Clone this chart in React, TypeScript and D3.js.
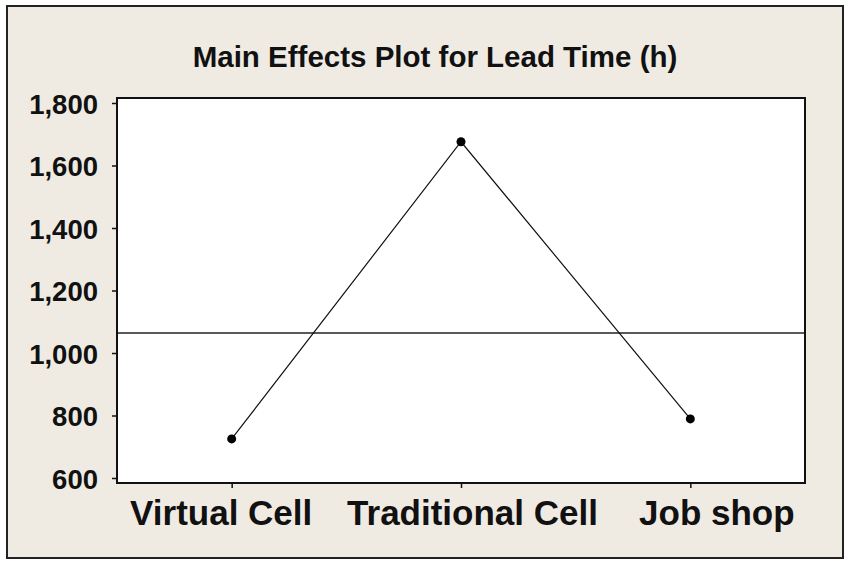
import { useEffect, useRef } from "react";
import * as d3 from "d3";

const categories = ["Virtual Cell", "Traditional Cell", "Job shop"];
const leadTime = [725, 1676, 789];
const grandMean = 1064;
const yTicks = [600, 800, 1000, 1200, 1400, 1600, 1800];
const title = "Main Effects Plot for Lead Time (h)";

const W = 850;
const H = 565;

// the category labels in the source image sit a little off their ticks
const labelShift: Record<string, number> = {
  "Virtual Cell": -11,
  "Traditional Cell": 11,
  "Job shop": 26,
};

export default function App() {
  const svgRef = useRef<SVGSVGElement>(null);

  useEffect(() => {
    if (!svgRef.current) return;
    const svg = d3.select(svgRef.current);
    svg.selectAll("*").remove();

    const plot = { left: 117, right: 805, top: 98, bottom: 483 };
    const font = "'Liberation Sans', Arial, sans-serif";

    // panel background + frame
    svg.append("rect").attr("width", W).attr("height", H).attr("fill", "#ffffff");
    svg
      .append("rect")
      .attr("x", 7)
      .attr("y", 6)
      .attr("width", 836)
      .attr("height", 552)
      .attr("fill", "#efebe3")
      .attr("stroke", "#222")
      .attr("stroke-width", 2);

    const x = d3
      .scalePoint<string>()
      .domain(categories)
      .range([plot.left, plot.right])
      .padding(0.5);
    const y = d3.scaleLinear().domain([584, 1816]).range([plot.bottom, plot.top]);

    svg
      .append("rect")
      .attr("x", plot.left)
      .attr("y", plot.top)
      .attr("width", plot.right - plot.left)
      .attr("height", plot.bottom - plot.top)
      .attr("fill", "#ffffff");

    svg
      .append("text")
      .attr("x", 435)
      .attr("y", 67)
      .attr("text-anchor", "middle")
      .attr("font-family", font)
      .attr("font-weight", "bold")
      .attr("font-size", "29.5px")
      .attr("fill", "#111")
      .text(title);

    // y axis
    const yAxis = svg.append("g").attr("transform", `translate(${plot.left},0)`).call(
      d3
        .axisLeft(y)
        .tickValues(yTicks)
        .tickSize(5)
        .tickPadding(14)
        .tickFormat((d) => d3.format(",")(d as number)),
    );
    yAxis.select(".domain").remove();
    yAxis.selectAll("line").attr("stroke", "#111").attr("stroke-width", 1.5);
    yAxis
      .selectAll("text")
      .attr("dy", "0.37em")
      .attr("font-family", font)
      .attr("font-weight", "bold")
      .attr("font-size", "27.5px")
      .attr("fill", "#111");

    // x axis
    const xAxis = svg.append("g").attr("transform", `translate(0,${plot.bottom})`).call(
      d3.axisBottom(x).tickSize(5),
    );
    xAxis.select(".domain").remove();
    xAxis.selectAll("line").attr("stroke", "#111").attr("stroke-width", 1.5);
    xAxis
      .selectAll<SVGTextElement, string>("text")
      .attr("y", 42)
      .attr("dy", 0)
      .attr("x", (d) => labelShift[d] ?? 0)
      .attr("font-family", font)
      .attr("font-weight", "bold")
      .attr("font-size", "35px")
      .attr("fill", "#111");

    // grand mean reference line
    svg
      .append("line")
      .attr("x1", plot.left)
      .attr("x2", plot.right)
      .attr("y1", y(grandMean))
      .attr("y2", y(grandMean))
      .attr("stroke", "#222")
      .attr("stroke-width", 1.5);

    const line = d3
      .line<number>()
      .x((_, i) => x(categories[i]) as number)
      .y((d) => y(d));

    svg
      .append("path")
      .datum(leadTime)
      .attr("fill", "none")
      .attr("stroke", "#111")
      .attr("stroke-width", 1.2)
      .attr("d", line);

    svg
      .append("g")
      .selectAll("circle")
      .data(leadTime)
      .join("circle")
      .attr("cx", (_, i) => x(categories[i]) as number)
      .attr("cy", (d) => y(d))
      .attr("r", 4.5)
      .attr("fill", "#000");

    // plot frame on top
    svg
      .append("rect")
      .attr("x", plot.left)
      .attr("y", plot.top)
      .attr("width", plot.right - plot.left)
      .attr("height", plot.bottom - plot.top)
      .attr("fill", "none")
      .attr("stroke", "#111")
      .attr("stroke-width", 2);
  }, []);

  return (
    <svg
      ref={svgRef}
      width={W}
      height={H}
      style={{ position: "absolute", left: 0, top: 0, display: "block" }}
    />
  );
}
